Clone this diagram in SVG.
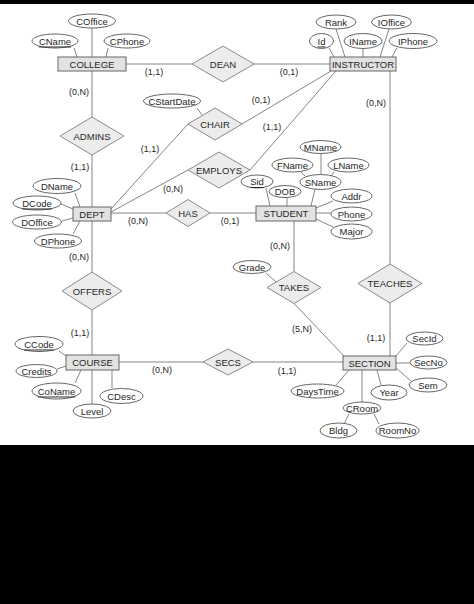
<svg xmlns="http://www.w3.org/2000/svg" width="474" height="604" viewBox="0 0 474 604">
<style>
text{font-family:"Liberation Sans",Arial,sans-serif;fill:#262626;text-anchor:middle;dominant-baseline:central}
.ent rect{fill:#e2e2e2;stroke:#666;stroke-width:1}
.ent text{font-size:9.5px}
.rel polygon{fill:#ececec;stroke:#8a8a8a;stroke-width:1}
.rel text{font-size:9.5px}
.att ellipse{fill:#fff;stroke:#555;stroke-width:0.9}
.att text{font-size:9.5px}
.key text{text-decoration:underline}
#connectors line{stroke:#777;stroke-width:0.9}
.card{font-size:9px}
</style>
<rect x="0" y="0" width="474" height="604" fill="#000"/>
<rect x="0" y="4" width="474" height="441" fill="#fff"/>
<g id="connectors">
<line x1="126" y1="64" x2="192" y2="64"/>
<line x1="254" y1="64" x2="330" y2="64"/>
<line x1="92" y1="71" x2="92" y2="117"/>
<line x1="92" y1="155" x2="92" y2="207"/>
<line x1="111" y1="209" x2="188" y2="124"/>
<line x1="242" y1="124" x2="331" y2="71"/>
<line x1="111" y1="212" x2="188" y2="170"/>
<line x1="250" y1="170" x2="336" y2="71"/>
<line x1="111" y1="213" x2="166" y2="213"/>
<line x1="210" y1="213" x2="256" y2="213"/>
<line x1="92" y1="221" x2="92" y2="272"/>
<line x1="92" y1="310" x2="92" y2="355"/>
<line x1="119" y1="362" x2="203" y2="362"/>
<line x1="253" y1="362" x2="343" y2="362"/>
<line x1="294" y1="221" x2="294" y2="271.5"/>
<line x1="294" y1="303.5" x2="344" y2="356"/>
<line x1="390" y1="71" x2="390" y2="264"/>
<line x1="390" y1="303" x2="390" y2="356"/>
<line x1="92" y1="28" x2="92" y2="57"/>
<line x1="74" y1="48" x2="77" y2="57"/>
<line x1="108" y1="48" x2="106" y2="57"/>
<line x1="329" y1="48" x2="334" y2="57"/>
<line x1="336" y1="29" x2="345" y2="57"/>
<line x1="363" y1="48" x2="363" y2="57"/>
<line x1="389" y1="29" x2="380" y2="57"/>
<line x1="397" y1="48" x2="392" y2="57"/>
<line x1="197" y1="108" x2="202" y2="115"/>
<line x1="75" y1="193" x2="80" y2="207"/>
<line x1="61" y1="204" x2="73" y2="209"/>
<line x1="62" y1="221" x2="73" y2="218"/>
<line x1="73" y1="234" x2="80" y2="221"/>
<line x1="321" y1="153" x2="321" y2="175"/>
<line x1="301" y1="172" x2="305" y2="176"/>
<line x1="334" y1="172" x2="331" y2="176"/>
<line x1="315" y1="189" x2="311" y2="206"/>
<line x1="266" y1="188" x2="270" y2="206"/>
<line x1="287" y1="197" x2="287" y2="206"/>
<line x1="333" y1="201" x2="316" y2="208"/>
<line x1="316" y1="213" x2="331" y2="213"/>
<line x1="333" y1="227" x2="316" y2="219"/>
<line x1="266" y1="273" x2="276" y2="282"/>
<line x1="59" y1="351" x2="66" y2="356"/>
<line x1="57" y1="369" x2="66" y2="366"/>
<line x1="75" y1="383" x2="81" y2="370"/>
<line x1="92" y1="370" x2="92" y2="404"/>
<line x1="112" y1="370" x2="112" y2="388"/>
<line x1="407" y1="343" x2="396" y2="356"/>
<line x1="396" y1="363" x2="410" y2="363"/>
<line x1="396" y1="368" x2="411" y2="381"/>
<line x1="336" y1="385" x2="349" y2="370"/>
<line x1="377" y1="370" x2="381" y2="385"/>
<line x1="362" y1="370" x2="362" y2="402"/>
<line x1="349" y1="414" x2="344" y2="424"/>
<line x1="374" y1="414" x2="379" y2="424"/>
</g>
<g id="cards">
<text class="card" x="154" y="72">(1,1)</text>
<text class="card" x="289" y="72">(0,1)</text>
<text class="card" x="79" y="92">(0,N)</text>
<text class="card" x="376" y="103">(0,N)</text>
<text class="card" x="261" y="100">(0,1)</text>
<text class="card" x="272" y="127">(1,1)</text>
<text class="card" x="150" y="149">(1,1)</text>
<text class="card" x="80" y="167">(1,1)</text>
<text class="card" x="173" y="189">(0,N)</text>
<text class="card" x="138" y="221">(0,N)</text>
<text class="card" x="230" y="221">(0,1)</text>
<text class="card" x="280" y="246">(0,N)</text>
<text class="card" x="79" y="257">(0,N)</text>
<text class="card" x="302" y="329">(5,N)</text>
<text class="card" x="80" y="333">(1,1)</text>
<text class="card" x="376" y="338">(1,1)</text>
<text class="card" x="162" y="370">(0,N)</text>
<text class="card" x="287" y="371">(1,1)</text>
</g>
<g id="COLLEGE" class="ent"><rect x="58" y="57" width="68" height="14"/><text x="92" y="64.5">COLLEGE</text></g>
<g id="INSTRUCTOR" class="ent"><rect x="330" y="57" width="66" height="14"/><text x="363" y="64.5">INSTRUCTOR</text></g>
<g id="DEPT" class="ent"><rect x="73" y="207" width="38" height="14"/><text x="92" y="214">DEPT</text></g>
<g id="STUDENT" class="ent"><rect x="256" y="206" width="60" height="15"/><text x="286" y="213.5">STUDENT</text></g>
<g id="COURSE" class="ent"><rect x="66" y="355" width="53" height="15"/><text x="92.5" y="362.5">COURSE</text></g>
<g id="SECTION" class="ent"><rect x="343" y="356" width="53" height="14"/><text x="369.5" y="363">SECTION</text></g>
<g id="DEAN" class="rel"><polygon points="192,64 223,46 254,64 223,82"/><text x="223" y="64">DEAN</text></g>
<g id="ADMINS" class="rel"><polygon points="60,136 92,117 124,136 92,155"/><text x="92" y="136">ADMINS</text></g>
<g id="CHAIR" class="rel"><polygon points="188,124 215,108 242,124 215,140"/><text x="215" y="124">CHAIR</text></g>
<g id="EMPLOYS" class="rel"><polygon points="188,170 219,152 250,170 219,188"/><text x="219" y="170">EMPLOYS</text></g>
<g id="HAS" class="rel"><polygon points="166,213 188,199.5 210,213 188,226.5"/><text x="188" y="213">HAS</text></g>
<g id="OFFERS" class="rel"><polygon points="62,291 92,272 122,291 92,310"/><text x="92" y="291">OFFERS</text></g>
<g id="TAKES" class="rel"><polygon points="267,287.5 294,271.5 321,287.5 294,303.5"/><text x="294" y="287.5">TAKES</text></g>
<g id="TEACHES" class="rel"><polygon points="358,283.5 390,264 422,283.5 390,303"/><text x="390" y="283.5">TEACHES</text></g>
<g id="SECS" class="rel"><polygon points="203,362 228,349 253,362 228,375"/><text x="228" y="362">SECS</text></g>
<g id="COffice" class="att"><ellipse cx="92" cy="21" rx="23.5" ry="7"/><text x="92" y="21">COffice</text></g>
<g id="CName" class="att key"><ellipse cx="55" cy="41" rx="23" ry="7"/><text x="55" y="41">CName</text></g>
<g id="CPhone" class="att"><ellipse cx="127" cy="41" rx="23" ry="7"/><text x="127" y="41">CPhone</text></g>
<g id="Rank" class="att"><ellipse cx="336" cy="22" rx="20" ry="7"/><text x="336" y="22">Rank</text></g>
<g id="IOffice" class="att"><ellipse cx="391.5" cy="22" rx="20" ry="7"/><text x="391.5" y="22">IOffice</text></g>
<g id="Id" class="att key"><ellipse cx="321.5" cy="41" rx="12" ry="7.5"/><text x="321.5" y="41">Id</text></g>
<g id="IName" class="att"><ellipse cx="363" cy="41" rx="19" ry="7.5"/><text x="363" y="41">IName</text></g>
<g id="IPhone" class="att"><ellipse cx="413" cy="41" rx="24" ry="7.5"/><text x="413" y="41">IPhone</text></g>
<g id="CStartDate" class="att"><ellipse cx="172" cy="101" rx="28.5" ry="7"/><text x="172" y="101">CStartDate</text></g>
<g id="DName" class="att"><ellipse cx="57" cy="186" rx="24" ry="7.5"/><text x="57" y="186">DName</text></g>
<g id="DCode" class="att key"><ellipse cx="37" cy="203" rx="24" ry="7"/><text x="37" y="203">DCode</text></g>
<g id="DOffice" class="att"><ellipse cx="37" cy="222" rx="24.5" ry="7"/><text x="37" y="222">DOffice</text></g>
<g id="DPhone" class="att"><ellipse cx="58" cy="241" rx="23.5" ry="7"/><text x="58" y="241">DPhone</text></g>
<g id="MName" class="att"><ellipse cx="320.5" cy="147" rx="20.5" ry="6.5"/><text x="320.5" y="147">MName</text></g>
<g id="FName" class="att"><ellipse cx="292.5" cy="165" rx="20.5" ry="7"/><text x="292.5" y="165">FName</text></g>
<g id="LName" class="att"><ellipse cx="348.5" cy="165" rx="20.5" ry="7"/><text x="348.5" y="165">LName</text></g>
<g id="SName" class="att"><ellipse cx="320.5" cy="182" rx="20.5" ry="7.5"/><text x="320.5" y="182">SName</text></g>
<g id="Sid" class="att key"><ellipse cx="257" cy="181.5" rx="16" ry="6.5"/><text x="257" y="181.5">Sid</text></g>
<g id="DOB" class="att"><ellipse cx="285" cy="191.5" rx="16" ry="6"/><text x="285" y="191.5">DOB</text></g>
<g id="Addr" class="att"><ellipse cx="351.5" cy="196" rx="20.5" ry="7"/><text x="351.5" y="196">Addr</text></g>
<g id="Phone" class="att"><ellipse cx="351.5" cy="214" rx="20.5" ry="7"/><text x="351.5" y="214">Phone</text></g>
<g id="Major" class="att"><ellipse cx="351.5" cy="231.5" rx="20.5" ry="7.5"/><text x="351.5" y="231.5">Major</text></g>
<g id="Grade" class="att"><ellipse cx="252" cy="267" rx="19" ry="6.5"/><text x="252" y="267">Grade</text></g>
<g id="CCode" class="att key"><ellipse cx="39" cy="344" rx="24" ry="7.5"/><text x="39" y="344">CCode</text></g>
<g id="Credits" class="att"><ellipse cx="36.5" cy="371" rx="20.5" ry="6.5"/><text x="36.5" y="371">Credits</text></g>
<g id="CoName" class="att key"><ellipse cx="56.5" cy="391" rx="24.5" ry="8"/><text x="56.5" y="391">CoName</text></g>
<g id="Level" class="att"><ellipse cx="92" cy="411" rx="19" ry="7"/><text x="92" y="411">Level</text></g>
<g id="CDesc" class="att"><ellipse cx="121.5" cy="396" rx="21.5" ry="7.5"/><text x="121.5" y="396">CDesc</text></g>
<g id="SecId" class="att"><ellipse cx="424.5" cy="338.5" rx="18.5" ry="6.5"/><text x="424.5" y="338.5">SecId</text></g>
<g id="SecNo" class="att"><ellipse cx="428.5" cy="362.5" rx="18.5" ry="6.5"/><text x="428.5" y="362.5">SecNo</text></g>
<g id="Sem" class="att"><ellipse cx="428" cy="385" rx="19" ry="7"/><text x="428" y="385">Sem</text></g>
<g id="DaysTime" class="att"><ellipse cx="317.5" cy="391" rx="26.5" ry="7"/><text x="317.5" y="391">DaysTime</text></g>
<g id="Year" class="att"><ellipse cx="389" cy="392.5" rx="18" ry="7.5"/><text x="389" y="392.5">Year</text></g>
<g id="CRoom" class="att"><ellipse cx="362" cy="408" rx="19" ry="6"/><text x="362" y="408">CRoom</text></g>
<g id="Bldg" class="att"><ellipse cx="338.5" cy="430.5" rx="18.5" ry="7.5"/><text x="338.5" y="430.5">Bldg</text></g>
<g id="RoomNo" class="att"><ellipse cx="397.5" cy="430.5" rx="21.5" ry="7.5"/><text x="397.5" y="430.5">RoomNo</text></g>
</svg>
